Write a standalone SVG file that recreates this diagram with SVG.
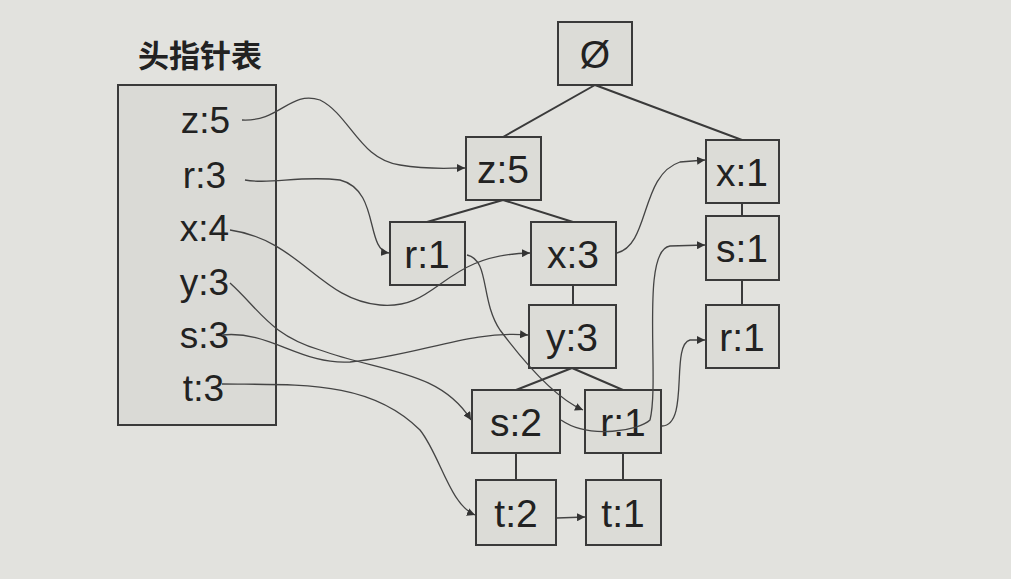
<svg xmlns="http://www.w3.org/2000/svg" width="1011" height="579" viewBox="0 0 1011 579">
<defs>
<marker id="ar" viewBox="0 0 10 10" refX="10" refY="5" markerWidth="8" markerHeight="8" orient="auto" markerUnits="userSpaceOnUse"><path d="M0,0L10,5L0,10z" fill="#333"/></marker>
<style>
.b{fill:#dcdcd7;stroke:#3a3a3a;stroke-width:2}
.t{font-family:"Liberation Sans",Arial,sans-serif;font-size:39px;fill:#222;text-anchor:middle}
.h{font-family:"Liberation Sans",Arial,sans-serif;font-size:37px;fill:#222;text-anchor:end}
.e{stroke:#3a3a3a;stroke-width:2;fill:none}
.l{stroke:#444;stroke-width:1.3;fill:none;marker-end:url(#ar)}
</style>
</defs>
<rect width="1011" height="579" fill="#e2e2de"/>
<g id="header">
<text x="200" y="67" font-family="Liberation Sans,'Noto Sans CJK SC',sans-serif" font-size="31" font-weight="bold" fill="#222" text-anchor="middle">头指针表</text>
<rect x="118" y="85" width="158" height="340" fill="#dadad6" stroke="#3a3a3a" stroke-width="2"/>
<text class="h" x="230" y="133">z:5</text>
<text class="h" x="226" y="188">r:3</text>
<text class="h" x="229" y="241">x:4</text>
<text class="h" x="229" y="295">y:3</text>
<text class="h" x="229" y="348">s:3</text>
<text class="h" x="224" y="401">t:3</text>
</g>
<g id="edges">
<path class="e" d="M595,85L503,137M595,85L742,140M503,200L427,222M503,200L573,222M573,285V305M572,368L516,390M572,368L623,390M516,453V480M623,453V480M742,203V216M742,280V305"/>
</g>
<g id="n0"><rect class="b" x="558" y="22" width="74" height="63"/><text class="t" x="595" y="68">Ø</text></g>
<g id="n1"><rect class="b" x="466" y="137" width="75" height="63"/><text class="t" x="503" y="183">z:5</text></g>
<g id="n2"><rect class="b" x="706" y="140" width="73" height="63"/><text class="t" x="742" y="186">x:1</text></g>
<g id="n3"><rect class="b" x="390" y="222" width="75" height="63"/><text class="t" x="427" y="268">r:1</text></g>
<g id="n4"><rect class="b" x="531" y="222" width="85" height="63"/><text class="t" x="573" y="268">x:3</text></g>
<g id="n5"><rect class="b" x="706" y="216" width="73" height="64"/><text class="t" x="742" y="262">s:1</text></g>
<g id="n6"><rect class="b" x="529" y="305" width="87" height="63"/><text class="t" x="572" y="351">y:3</text></g>
<g id="n7"><rect class="b" x="706" y="305" width="73" height="63"/><text class="t" x="742" y="351">r:1</text></g>
<g id="n8"><rect class="b" x="472" y="390" width="88" height="63"/><text class="t" x="516" y="436">s:2</text></g>
<g id="n9"><rect class="b" x="585" y="390" width="76" height="63"/><text class="t" x="623" y="436">r:1</text></g>
<g id="n10"><rect class="b" x="476" y="480" width="80" height="65"/><text class="t" x="516" y="527">t:2</text></g>
<g id="n11"><rect class="b" x="586" y="480" width="75" height="65"/><text class="t" x="623" y="527">t:1</text></g>
<g id="links">
<path class="l" d="M242,120C280,122 290,90 320,100C350,115 360,160 400,165C430,170 445,168 465,168"/>
<path class="l" d="M245,180C270,185 300,175 340,180C380,190 365,250 389,253"/>
<path class="l" d="M230,230C300,240 320,300 380,305C440,310 440,255 530,253"/>
<path class="l" d="M617,253C650,245 640,175 680,162L705,160"/>
<path class="l" d="M467,255C490,260 480,300 500,330C530,370 560,400 583,410"/>
<path class="l" d="M230,283C260,310 270,335 320,350C380,372 440,370 471,420"/>
<path class="l" d="M222,335C270,330 300,365 350,362C420,355 470,330 528,335"/>
<path class="l" d="M222,384C300,385 370,380 420,430C440,455 450,505 475,515"/>
<path class="l" d="M561,420C590,440 640,430 650,420C660,380 640,250 670,246L705,245"/>
<path class="l" d="M662,426C690,425 670,345 690,340L705,340"/>
<path class="l" d="M557,518L585,517"/>
</g>
</svg>
